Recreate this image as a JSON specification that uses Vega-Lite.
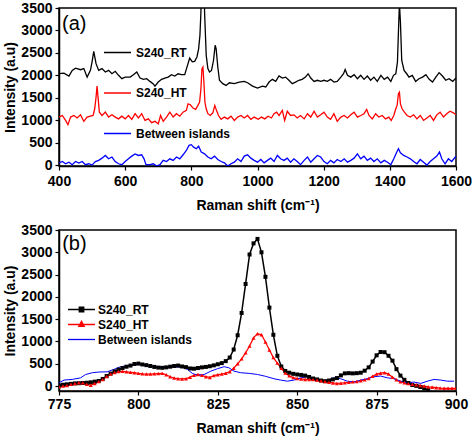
{
  "$schema": "https://vega.github.io/schema/vega-lite/v6.json",
  "padding": {"left": 3, "top": 0, "right": 2, "bottom": 0},
  "spacing": 9,
  "config": {
    "background": "white",
    "view": {"stroke": "black", "strokeWidth": 1.5},
    "axis": {
      "grid": false,
      "domainColor": "black", "domainWidth": 1.5,
      "tickColor": "black", "tickWidth": 1.2, "tickSize": 4,
      "labelFont": "Liberation Sans", "labelFontWeight": "bold", "labelFontSize": 14, "labelColor": "black",
      "titleFont": "Liberation Sans", "titleFontWeight": "bold", "titleFontSize": 14, "titleColor": "black",
      "labelFlush": false, "format": "d"
    },
    "legend": {
      "labelFont": "Liberation Sans", "labelFontWeight": "bold", "labelFontSize": 12, "labelColor": "black"
    }
  },
  "datasets": {
    "top": [
      {"x": 400, "y": 2036, "s": "S240_RT"}, {"x": 415, "y": 2050, "s": "S240_RT"}, {"x": 430, "y": 1985, "s": "S240_RT"}, {"x": 440, "y": 2110, "s": "S240_RT"},
      {"x": 450, "y": 2160, "s": "S240_RT"}, {"x": 465, "y": 2125, "s": "S240_RT"}, {"x": 475, "y": 2150, "s": "S240_RT"}, {"x": 485, "y": 1960, "s": "S240_RT"},
      {"x": 495, "y": 2110, "s": "S240_RT"}, {"x": 500, "y": 2300, "s": "S240_RT"}, {"x": 505, "y": 2535, "s": "S240_RT"}, {"x": 512, "y": 2260, "s": "S240_RT"},
      {"x": 520, "y": 2110, "s": "S240_RT"}, {"x": 530, "y": 2150, "s": "S240_RT"}, {"x": 540, "y": 2075, "s": "S240_RT"}, {"x": 550, "y": 2110, "s": "S240_RT"},
      {"x": 560, "y": 2035, "s": "S240_RT"}, {"x": 570, "y": 2090, "s": "S240_RT"}, {"x": 580, "y": 2000, "s": "S240_RT"}, {"x": 590, "y": 1925, "s": "S240_RT"},
      {"x": 600, "y": 1960, "s": "S240_RT"}, {"x": 615, "y": 1960, "s": "S240_RT"}, {"x": 625, "y": 2015, "s": "S240_RT"}, {"x": 635, "y": 2075, "s": "S240_RT"},
      {"x": 645, "y": 1940, "s": "S240_RT"}, {"x": 655, "y": 1910, "s": "S240_RT"}, {"x": 665, "y": 1925, "s": "S240_RT"}, {"x": 675, "y": 1865, "s": "S240_RT"},
      {"x": 685, "y": 1810, "s": "S240_RT"}, {"x": 690, "y": 1760, "s": "S240_RT"}, {"x": 700, "y": 1850, "s": "S240_RT"}, {"x": 710, "y": 1910, "s": "S240_RT"},
      {"x": 720, "y": 1940, "s": "S240_RT"}, {"x": 730, "y": 1960, "s": "S240_RT"}, {"x": 740, "y": 2015, "s": "S240_RT"}, {"x": 750, "y": 1985, "s": "S240_RT"},
      {"x": 760, "y": 2035, "s": "S240_RT"}, {"x": 770, "y": 2015, "s": "S240_RT"}, {"x": 780, "y": 2015, "s": "S240_RT"}, {"x": 790, "y": 2260, "s": "S240_RT"},
      {"x": 795, "y": 2385, "s": "S240_RT"}, {"x": 803, "y": 2300, "s": "S240_RT"}, {"x": 810, "y": 2310, "s": "S240_RT"}, {"x": 817, "y": 2410, "s": "S240_RT"},
      {"x": 822, "y": 2590, "s": "S240_RT"}, {"x": 826, "y": 2890, "s": "S240_RT"}, {"x": 829, "y": 3410, "s": "S240_RT"}, {"x": 832, "y": 4500, "s": "S240_RT"},
      {"x": 835, "y": 6000, "s": "S240_RT"}, {"x": 838, "y": 4500, "s": "S240_RT"}, {"x": 840, "y": 3410, "s": "S240_RT"}, {"x": 845, "y": 2445, "s": "S240_RT"},
      {"x": 850, "y": 2150, "s": "S240_RT"}, {"x": 855, "y": 2075, "s": "S240_RT"}, {"x": 861, "y": 2110, "s": "S240_RT"}, {"x": 867, "y": 2330, "s": "S240_RT"},
      {"x": 872, "y": 2670, "s": "S240_RT"}, {"x": 875, "y": 2590, "s": "S240_RT"}, {"x": 880, "y": 2185, "s": "S240_RT"}, {"x": 885, "y": 1890, "s": "S240_RT"},
      {"x": 895, "y": 1815, "s": "S240_RT"}, {"x": 905, "y": 1775, "s": "S240_RT"}, {"x": 915, "y": 1835, "s": "S240_RT"}, {"x": 930, "y": 1815, "s": "S240_RT"},
      {"x": 945, "y": 1850, "s": "S240_RT"}, {"x": 960, "y": 1865, "s": "S240_RT"}, {"x": 970, "y": 1835, "s": "S240_RT"}, {"x": 985, "y": 1760, "s": "S240_RT"},
      {"x": 1000, "y": 1715, "s": "S240_RT"}, {"x": 1015, "y": 1760, "s": "S240_RT"}, {"x": 1025, "y": 1740, "s": "S240_RT"}, {"x": 1035, "y": 1850, "s": "S240_RT"},
      {"x": 1045, "y": 1910, "s": "S240_RT"}, {"x": 1055, "y": 1865, "s": "S240_RT"}, {"x": 1065, "y": 1985, "s": "S240_RT"}, {"x": 1075, "y": 1940, "s": "S240_RT"},
      {"x": 1085, "y": 1960, "s": "S240_RT"}, {"x": 1095, "y": 1890, "s": "S240_RT"}, {"x": 1105, "y": 1815, "s": "S240_RT"}, {"x": 1115, "y": 1850, "s": "S240_RT"},
      {"x": 1125, "y": 1890, "s": "S240_RT"}, {"x": 1135, "y": 1910, "s": "S240_RT"}, {"x": 1145, "y": 1960, "s": "S240_RT"}, {"x": 1153, "y": 2035, "s": "S240_RT"},
      {"x": 1161, "y": 1940, "s": "S240_RT"}, {"x": 1171, "y": 1865, "s": "S240_RT"}, {"x": 1181, "y": 1890, "s": "S240_RT"}, {"x": 1191, "y": 1865, "s": "S240_RT"},
      {"x": 1201, "y": 1890, "s": "S240_RT"}, {"x": 1211, "y": 1865, "s": "S240_RT"}, {"x": 1221, "y": 1910, "s": "S240_RT"}, {"x": 1231, "y": 1850, "s": "S240_RT"},
      {"x": 1241, "y": 1865, "s": "S240_RT"}, {"x": 1252, "y": 1960, "s": "S240_RT"}, {"x": 1260, "y": 2035, "s": "S240_RT"}, {"x": 1265, "y": 2130, "s": "S240_RT"},
      {"x": 1272, "y": 2000, "s": "S240_RT"}, {"x": 1282, "y": 1960, "s": "S240_RT"}, {"x": 1292, "y": 2015, "s": "S240_RT"}, {"x": 1302, "y": 1925, "s": "S240_RT"},
      {"x": 1312, "y": 2000, "s": "S240_RT"}, {"x": 1322, "y": 1910, "s": "S240_RT"}, {"x": 1332, "y": 1985, "s": "S240_RT"}, {"x": 1342, "y": 1890, "s": "S240_RT"},
      {"x": 1352, "y": 1960, "s": "S240_RT"}, {"x": 1362, "y": 1865, "s": "S240_RT"}, {"x": 1373, "y": 2000, "s": "S240_RT"}, {"x": 1383, "y": 1910, "s": "S240_RT"},
      {"x": 1393, "y": 1960, "s": "S240_RT"}, {"x": 1403, "y": 1865, "s": "S240_RT"}, {"x": 1411, "y": 2000, "s": "S240_RT"}, {"x": 1418, "y": 2035, "s": "S240_RT"},
      {"x": 1423, "y": 2295, "s": "S240_RT"}, {"x": 1427, "y": 3190, "s": "S240_RT"}, {"x": 1429, "y": 3600, "s": "S240_RT"}, {"x": 1432, "y": 3190, "s": "S240_RT"},
      {"x": 1436, "y": 2330, "s": "S240_RT"}, {"x": 1443, "y": 2110, "s": "S240_RT"}, {"x": 1451, "y": 2035, "s": "S240_RT"}, {"x": 1458, "y": 1960, "s": "S240_RT"},
      {"x": 1468, "y": 2000, "s": "S240_RT"}, {"x": 1478, "y": 1865, "s": "S240_RT"}, {"x": 1488, "y": 1925, "s": "S240_RT"}, {"x": 1499, "y": 1960, "s": "S240_RT"},
      {"x": 1509, "y": 2015, "s": "S240_RT"}, {"x": 1519, "y": 1910, "s": "S240_RT"}, {"x": 1529, "y": 1850, "s": "S240_RT"}, {"x": 1539, "y": 1960, "s": "S240_RT"},
      {"x": 1549, "y": 2060, "s": "S240_RT"}, {"x": 1559, "y": 1985, "s": "S240_RT"}, {"x": 1569, "y": 1890, "s": "S240_RT"}, {"x": 1579, "y": 1925, "s": "S240_RT"},
      {"x": 1590, "y": 1865, "s": "S240_RT"}, {"x": 1600, "y": 1940, "s": "S240_RT"},

      {"x": 400, "y": 1070, "s": "S240_HT"}, {"x": 410, "y": 1105, "s": "S240_HT"}, {"x": 420, "y": 995, "s": "S240_HT"}, {"x": 427, "y": 900, "s": "S240_HT"},
      {"x": 435, "y": 1070, "s": "S240_HT"}, {"x": 445, "y": 1105, "s": "S240_HT"}, {"x": 455, "y": 1050, "s": "S240_HT"}, {"x": 465, "y": 1120, "s": "S240_HT"},
      {"x": 475, "y": 975, "s": "S240_HT"}, {"x": 485, "y": 1070, "s": "S240_HT"}, {"x": 495, "y": 1090, "s": "S240_HT"}, {"x": 503, "y": 1105, "s": "S240_HT"},
      {"x": 508, "y": 1255, "s": "S240_HT"}, {"x": 512, "y": 1515, "s": "S240_HT"}, {"x": 515, "y": 1760, "s": "S240_HT"}, {"x": 518, "y": 1515, "s": "S240_HT"},
      {"x": 522, "y": 1180, "s": "S240_HT"}, {"x": 530, "y": 1105, "s": "S240_HT"}, {"x": 540, "y": 1180, "s": "S240_HT"}, {"x": 550, "y": 1070, "s": "S240_HT"},
      {"x": 560, "y": 1120, "s": "S240_HT"}, {"x": 570, "y": 1070, "s": "S240_HT"}, {"x": 580, "y": 1030, "s": "S240_HT"}, {"x": 590, "y": 1090, "s": "S240_HT"},
      {"x": 600, "y": 1030, "s": "S240_HT"}, {"x": 610, "y": 1105, "s": "S240_HT"}, {"x": 620, "y": 1020, "s": "S240_HT"}, {"x": 630, "y": 1145, "s": "S240_HT"},
      {"x": 640, "y": 1050, "s": "S240_HT"}, {"x": 650, "y": 1145, "s": "S240_HT"}, {"x": 660, "y": 995, "s": "S240_HT"}, {"x": 670, "y": 1030, "s": "S240_HT"},
      {"x": 680, "y": 945, "s": "S240_HT"}, {"x": 690, "y": 975, "s": "S240_HT"}, {"x": 700, "y": 920, "s": "S240_HT"}, {"x": 707, "y": 1105, "s": "S240_HT"},
      {"x": 715, "y": 975, "s": "S240_HT"}, {"x": 725, "y": 1070, "s": "S240_HT"}, {"x": 735, "y": 1180, "s": "S240_HT"}, {"x": 745, "y": 1070, "s": "S240_HT"},
      {"x": 755, "y": 1145, "s": "S240_HT"}, {"x": 765, "y": 1090, "s": "S240_HT"}, {"x": 775, "y": 1180, "s": "S240_HT"}, {"x": 785, "y": 1220, "s": "S240_HT"},
      {"x": 790, "y": 1365, "s": "S240_HT"}, {"x": 797, "y": 1345, "s": "S240_HT"}, {"x": 805, "y": 1270, "s": "S240_HT"}, {"x": 813, "y": 1240, "s": "S240_HT"},
      {"x": 820, "y": 1330, "s": "S240_HT"}, {"x": 825, "y": 1405, "s": "S240_HT"}, {"x": 829, "y": 1700, "s": "S240_HT"}, {"x": 832, "y": 2145, "s": "S240_HT"},
      {"x": 835, "y": 2185, "s": "S240_HT"}, {"x": 838, "y": 1850, "s": "S240_HT"}, {"x": 841, "y": 1405, "s": "S240_HT"}, {"x": 845, "y": 1255, "s": "S240_HT"},
      {"x": 850, "y": 1145, "s": "S240_HT"}, {"x": 857, "y": 1105, "s": "S240_HT"}, {"x": 865, "y": 1165, "s": "S240_HT"}, {"x": 871, "y": 1330, "s": "S240_HT"},
      {"x": 876, "y": 1220, "s": "S240_HT"}, {"x": 882, "y": 1105, "s": "S240_HT"}, {"x": 890, "y": 1020, "s": "S240_HT"}, {"x": 900, "y": 1070, "s": "S240_HT"},
      {"x": 910, "y": 1030, "s": "S240_HT"}, {"x": 920, "y": 1090, "s": "S240_HT"}, {"x": 930, "y": 995, "s": "S240_HT"}, {"x": 940, "y": 1070, "s": "S240_HT"},
      {"x": 950, "y": 1105, "s": "S240_HT"}, {"x": 960, "y": 1050, "s": "S240_HT"}, {"x": 970, "y": 1105, "s": "S240_HT"}, {"x": 980, "y": 1020, "s": "S240_HT"},
      {"x": 990, "y": 1070, "s": "S240_HT"}, {"x": 1002, "y": 1020, "s": "S240_HT"}, {"x": 1012, "y": 1070, "s": "S240_HT"}, {"x": 1022, "y": 1030, "s": "S240_HT"},
      {"x": 1032, "y": 1090, "s": "S240_HT"}, {"x": 1042, "y": 1050, "s": "S240_HT"}, {"x": 1050, "y": 1145, "s": "S240_HT"}, {"x": 1058, "y": 1180, "s": "S240_HT"},
      {"x": 1065, "y": 1105, "s": "S240_HT"}, {"x": 1075, "y": 1220, "s": "S240_HT"}, {"x": 1082, "y": 995, "s": "S240_HT"}, {"x": 1090, "y": 1200, "s": "S240_HT"},
      {"x": 1100, "y": 1105, "s": "S240_HT"}, {"x": 1110, "y": 1120, "s": "S240_HT"}, {"x": 1120, "y": 1050, "s": "S240_HT"}, {"x": 1130, "y": 1105, "s": "S240_HT"},
      {"x": 1141, "y": 1030, "s": "S240_HT"}, {"x": 1151, "y": 1145, "s": "S240_HT"}, {"x": 1161, "y": 1070, "s": "S240_HT"}, {"x": 1171, "y": 1200, "s": "S240_HT"},
      {"x": 1181, "y": 1070, "s": "S240_HT"}, {"x": 1191, "y": 1120, "s": "S240_HT"}, {"x": 1201, "y": 1180, "s": "S240_HT"}, {"x": 1211, "y": 1070, "s": "S240_HT"},
      {"x": 1221, "y": 1020, "s": "S240_HT"}, {"x": 1231, "y": 1145, "s": "S240_HT"}, {"x": 1241, "y": 975, "s": "S240_HT"}, {"x": 1252, "y": 1070, "s": "S240_HT"},
      {"x": 1262, "y": 1105, "s": "S240_HT"}, {"x": 1272, "y": 1050, "s": "S240_HT"}, {"x": 1282, "y": 1120, "s": "S240_HT"}, {"x": 1292, "y": 1180, "s": "S240_HT"},
      {"x": 1302, "y": 1070, "s": "S240_HT"}, {"x": 1312, "y": 1105, "s": "S240_HT"}, {"x": 1322, "y": 1145, "s": "S240_HT"}, {"x": 1330, "y": 1240, "s": "S240_HT"},
      {"x": 1337, "y": 1105, "s": "S240_HT"}, {"x": 1347, "y": 1030, "s": "S240_HT"}, {"x": 1357, "y": 1145, "s": "S240_HT"}, {"x": 1367, "y": 1070, "s": "S240_HT"},
      {"x": 1377, "y": 1105, "s": "S240_HT"}, {"x": 1387, "y": 1030, "s": "S240_HT"}, {"x": 1397, "y": 1070, "s": "S240_HT"}, {"x": 1404, "y": 995, "s": "S240_HT"},
      {"x": 1412, "y": 1105, "s": "S240_HT"}, {"x": 1418, "y": 1255, "s": "S240_HT"}, {"x": 1422, "y": 1330, "s": "S240_HT"}, {"x": 1426, "y": 1590, "s": "S240_HT"},
      {"x": 1429, "y": 1625, "s": "S240_HT"}, {"x": 1432, "y": 1365, "s": "S240_HT"}, {"x": 1437, "y": 1255, "s": "S240_HT"}, {"x": 1444, "y": 1180, "s": "S240_HT"},
      {"x": 1452, "y": 1105, "s": "S240_HT"}, {"x": 1462, "y": 1070, "s": "S240_HT"}, {"x": 1472, "y": 1120, "s": "S240_HT"}, {"x": 1482, "y": 1030, "s": "S240_HT"},
      {"x": 1492, "y": 1105, "s": "S240_HT"}, {"x": 1502, "y": 995, "s": "S240_HT"}, {"x": 1512, "y": 1050, "s": "S240_HT"}, {"x": 1522, "y": 1105, "s": "S240_HT"},
      {"x": 1532, "y": 995, "s": "S240_HT"}, {"x": 1542, "y": 1120, "s": "S240_HT"}, {"x": 1552, "y": 1180, "s": "S240_HT"}, {"x": 1562, "y": 1070, "s": "S240_HT"},
      {"x": 1572, "y": 1145, "s": "S240_HT"}, {"x": 1582, "y": 1200, "s": "S240_HT"}, {"x": 1592, "y": 1165, "s": "S240_HT"}, {"x": 1600, "y": 1120, "s": "S240_HT"},

      {"x": 400, "y": 50, "s": "Between islands"}, {"x": 410, "y": 80, "s": "Between islands"}, {"x": 420, "y": 30, "s": "Between islands"}, {"x": 430, "y": 65, "s": "Between islands"},
      {"x": 440, "y": 10, "s": "Between islands"}, {"x": 450, "y": 80, "s": "Between islands"}, {"x": 460, "y": 45, "s": "Between islands"}, {"x": 470, "y": 80, "s": "Between islands"},
      {"x": 480, "y": 10, "s": "Between islands"}, {"x": 490, "y": 30, "s": "Between islands"}, {"x": 500, "y": 0, "s": "Between islands"}, {"x": 510, "y": 80, "s": "Between islands"},
      {"x": 520, "y": 105, "s": "Between islands"}, {"x": 530, "y": 155, "s": "Between islands"}, {"x": 540, "y": 215, "s": "Between islands"}, {"x": 550, "y": 140, "s": "Between islands"},
      {"x": 560, "y": 180, "s": "Between islands"}, {"x": 570, "y": 80, "s": "Between islands"}, {"x": 580, "y": 30, "s": "Between islands"}, {"x": 590, "y": 10, "s": "Between islands"},
      {"x": 600, "y": 80, "s": "Between islands"}, {"x": 610, "y": 140, "s": "Between islands"}, {"x": 620, "y": 200, "s": "Between islands"}, {"x": 630, "y": 250, "s": "Between islands"},
      {"x": 640, "y": 215, "s": "Between islands"}, {"x": 650, "y": 230, "s": "Between islands"}, {"x": 657, "y": 140, "s": "Between islands"}, {"x": 663, "y": 10, "s": "Between islands"},
      {"x": 675, "y": 10, "s": "Between islands"}, {"x": 685, "y": 30, "s": "Between islands"}, {"x": 695, "y": -20, "s": "Between islands"}, {"x": 705, "y": 10, "s": "Between islands"},
      {"x": 715, "y": 105, "s": "Between islands"}, {"x": 725, "y": 80, "s": "Between islands"}, {"x": 735, "y": 140, "s": "Between islands"}, {"x": 745, "y": 105, "s": "Between islands"},
      {"x": 755, "y": 180, "s": "Between islands"}, {"x": 765, "y": 140, "s": "Between islands"}, {"x": 775, "y": 230, "s": "Between islands"}, {"x": 785, "y": 325, "s": "Between islands"},
      {"x": 793, "y": 440, "s": "Between islands"}, {"x": 800, "y": 455, "s": "Between islands"}, {"x": 807, "y": 400, "s": "Between islands"}, {"x": 815, "y": 365, "s": "Between islands"},
      {"x": 822, "y": 420, "s": "Between islands"}, {"x": 830, "y": 290, "s": "Between islands"}, {"x": 840, "y": 250, "s": "Between islands"}, {"x": 850, "y": 180, "s": "Between islands"},
      {"x": 860, "y": 140, "s": "Between islands"}, {"x": 870, "y": 200, "s": "Between islands"}, {"x": 880, "y": 125, "s": "Between islands"}, {"x": 890, "y": 80, "s": "Between islands"},
      {"x": 900, "y": 50, "s": "Between islands"}, {"x": 910, "y": -20, "s": "Between islands"}, {"x": 920, "y": 30, "s": "Between islands"}, {"x": 930, "y": 65, "s": "Between islands"},
      {"x": 940, "y": 140, "s": "Between islands"}, {"x": 950, "y": 80, "s": "Between islands"}, {"x": 960, "y": 200, "s": "Between islands"}, {"x": 970, "y": 230, "s": "Between islands"},
      {"x": 980, "y": 155, "s": "Between islands"}, {"x": 990, "y": 105, "s": "Between islands"}, {"x": 1000, "y": 65, "s": "Between islands"}, {"x": 1010, "y": 125, "s": "Between islands"},
      {"x": 1020, "y": 50, "s": "Between islands"}, {"x": 1030, "y": 105, "s": "Between islands"}, {"x": 1040, "y": 155, "s": "Between islands"}, {"x": 1050, "y": 80, "s": "Between islands"},
      {"x": 1060, "y": 215, "s": "Between islands"}, {"x": 1070, "y": 140, "s": "Between islands"}, {"x": 1080, "y": 105, "s": "Between islands"}, {"x": 1090, "y": 155, "s": "Between islands"},
      {"x": 1100, "y": 65, "s": "Between islands"}, {"x": 1110, "y": 140, "s": "Between islands"}, {"x": 1120, "y": 80, "s": "Between islands"}, {"x": 1130, "y": 10, "s": "Between islands"},
      {"x": 1141, "y": 105, "s": "Between islands"}, {"x": 1151, "y": 180, "s": "Between islands"}, {"x": 1161, "y": 65, "s": "Between islands"}, {"x": 1171, "y": 140, "s": "Between islands"},
      {"x": 1181, "y": 215, "s": "Between islands"}, {"x": 1191, "y": 180, "s": "Between islands"}, {"x": 1201, "y": 80, "s": "Between islands"}, {"x": 1211, "y": 30, "s": "Between islands"},
      {"x": 1221, "y": 105, "s": "Between islands"}, {"x": 1231, "y": 50, "s": "Between islands"}, {"x": 1241, "y": 125, "s": "Between islands"}, {"x": 1252, "y": 80, "s": "Between islands"},
      {"x": 1262, "y": 140, "s": "Between islands"}, {"x": 1272, "y": 65, "s": "Between islands"}, {"x": 1282, "y": 105, "s": "Between islands"}, {"x": 1292, "y": 155, "s": "Between islands"},
      {"x": 1302, "y": 250, "s": "Between islands"}, {"x": 1312, "y": 140, "s": "Between islands"}, {"x": 1322, "y": 200, "s": "Between islands"}, {"x": 1332, "y": 105, "s": "Between islands"},
      {"x": 1342, "y": 155, "s": "Between islands"}, {"x": 1352, "y": 80, "s": "Between islands"}, {"x": 1362, "y": 140, "s": "Between islands"}, {"x": 1373, "y": 50, "s": "Between islands"},
      {"x": 1383, "y": 105, "s": "Between islands"}, {"x": 1393, "y": 65, "s": "Between islands"}, {"x": 1403, "y": 10, "s": "Between islands"}, {"x": 1412, "y": 140, "s": "Between islands"},
      {"x": 1420, "y": 275, "s": "Between islands"}, {"x": 1426, "y": 365, "s": "Between islands"}, {"x": 1432, "y": 275, "s": "Between islands"}, {"x": 1442, "y": 215, "s": "Between islands"},
      {"x": 1452, "y": 180, "s": "Between islands"}, {"x": 1462, "y": 140, "s": "Between islands"}, {"x": 1472, "y": 80, "s": "Between islands"}, {"x": 1482, "y": 30, "s": "Between islands"},
      {"x": 1492, "y": 125, "s": "Between islands"}, {"x": 1502, "y": 65, "s": "Between islands"}, {"x": 1512, "y": 0, "s": "Between islands"}, {"x": 1522, "y": 80, "s": "Between islands"},
      {"x": 1532, "y": 140, "s": "Between islands"}, {"x": 1542, "y": 200, "s": "Between islands"}, {"x": 1550, "y": 290, "s": "Between islands"}, {"x": 1557, "y": 140, "s": "Between islands"},
      {"x": 1567, "y": 30, "s": "Between islands"}, {"x": 1577, "y": 140, "s": "Between islands"}, {"x": 1587, "y": 80, "s": "Between islands"}, {"x": 1600, "y": 200, "s": "Between islands"}
    ],
    "bottom": [
      {"x": 775, "y": 15, "s": "S240_RT"}, {"x": 776.25, "y": 30, "s": "S240_RT"}, {"x": 777.5, "y": 40, "s": "S240_RT"}, {"x": 778.75, "y": 50, "s": "S240_RT"},
      {"x": 780, "y": 60, "s": "S240_RT"}, {"x": 781.25, "y": 65, "s": "S240_RT"}, {"x": 782.5, "y": 70, "s": "S240_RT"}, {"x": 783.75, "y": 75, "s": "S240_RT"},
      {"x": 785, "y": 85, "s": "S240_RT"}, {"x": 786.25, "y": 100, "s": "S240_RT"}, {"x": 787.5, "y": 115, "s": "S240_RT"}, {"x": 788.75, "y": 160, "s": "S240_RT"},
      {"x": 790, "y": 225, "s": "S240_RT"}, {"x": 791.25, "y": 280, "s": "S240_RT"}, {"x": 792.5, "y": 330, "s": "S240_RT"}, {"x": 793.75, "y": 370, "s": "S240_RT"},
      {"x": 795, "y": 405, "s": "S240_RT"}, {"x": 796.25, "y": 435, "s": "S240_RT"}, {"x": 797.5, "y": 460, "s": "S240_RT"}, {"x": 798.75, "y": 495, "s": "S240_RT"},
      {"x": 800, "y": 505, "s": "S240_RT"}, {"x": 801.25, "y": 485, "s": "S240_RT"}, {"x": 802.5, "y": 470, "s": "S240_RT"}, {"x": 803.75, "y": 450, "s": "S240_RT"},
      {"x": 805, "y": 430, "s": "S240_RT"}, {"x": 806.25, "y": 415, "s": "S240_RT"}, {"x": 807.5, "y": 410, "s": "S240_RT"}, {"x": 808.75, "y": 420, "s": "S240_RT"},
      {"x": 810, "y": 435, "s": "S240_RT"}, {"x": 811.25, "y": 450, "s": "S240_RT"}, {"x": 812.5, "y": 460, "s": "S240_RT"}, {"x": 813.75, "y": 440, "s": "S240_RT"},
      {"x": 815, "y": 425, "s": "S240_RT"}, {"x": 816.25, "y": 395, "s": "S240_RT"}, {"x": 817.5, "y": 390, "s": "S240_RT"}, {"x": 818.75, "y": 405, "s": "S240_RT"},
      {"x": 820, "y": 420, "s": "S240_RT"}, {"x": 821.25, "y": 430, "s": "S240_RT"}, {"x": 822.5, "y": 445, "s": "S240_RT"}, {"x": 823.75, "y": 465, "s": "S240_RT"},
      {"x": 825, "y": 490, "s": "S240_RT"}, {"x": 826.25, "y": 515, "s": "S240_RT"}, {"x": 827.5, "y": 560, "s": "S240_RT"}, {"x": 828.75, "y": 640, "s": "S240_RT"},
      {"x": 830, "y": 820, "s": "S240_RT"}, {"x": 831.25, "y": 1140, "s": "S240_RT"}, {"x": 832.5, "y": 1640, "s": "S240_RT"}, {"x": 833.75, "y": 2290, "s": "S240_RT"},
      {"x": 835, "y": 2950, "s": "S240_RT"}, {"x": 836.25, "y": 3200, "s": "S240_RT"}, {"x": 837.5, "y": 3300, "s": "S240_RT"}, {"x": 838.75, "y": 3000, "s": "S240_RT"},
      {"x": 840, "y": 2450, "s": "S240_RT"}, {"x": 841.25, "y": 1760, "s": "S240_RT"}, {"x": 842.5, "y": 1150, "s": "S240_RT"}, {"x": 843.75, "y": 680, "s": "S240_RT"},
      {"x": 845, "y": 440, "s": "S240_RT"}, {"x": 846.25, "y": 340, "s": "S240_RT"}, {"x": 847.5, "y": 300, "s": "S240_RT"}, {"x": 848.75, "y": 275, "s": "S240_RT"},
      {"x": 850, "y": 260, "s": "S240_RT"}, {"x": 851.25, "y": 250, "s": "S240_RT"}, {"x": 852.5, "y": 235, "s": "S240_RT"}, {"x": 853.75, "y": 205, "s": "S240_RT"},
      {"x": 855, "y": 170, "s": "S240_RT"}, {"x": 856.25, "y": 150, "s": "S240_RT"}, {"x": 857.5, "y": 125, "s": "S240_RT"}, {"x": 858.75, "y": 110, "s": "S240_RT"},
      {"x": 860, "y": 125, "s": "S240_RT"}, {"x": 861.25, "y": 150, "s": "S240_RT"}, {"x": 862.5, "y": 180, "s": "S240_RT"}, {"x": 863.75, "y": 240, "s": "S240_RT"},
      {"x": 865, "y": 285, "s": "S240_RT"}, {"x": 866.25, "y": 290, "s": "S240_RT"}, {"x": 867.5, "y": 285, "s": "S240_RT"}, {"x": 868.75, "y": 290, "s": "S240_RT"},
      {"x": 870, "y": 300, "s": "S240_RT"}, {"x": 871.25, "y": 345, "s": "S240_RT"}, {"x": 872.5, "y": 420, "s": "S240_RT"}, {"x": 873.75, "y": 550, "s": "S240_RT"},
      {"x": 875, "y": 690, "s": "S240_RT"}, {"x": 876.25, "y": 765, "s": "S240_RT"}, {"x": 877.5, "y": 760, "s": "S240_RT"}, {"x": 878.75, "y": 680, "s": "S240_RT"},
      {"x": 880, "y": 570, "s": "S240_RT"}, {"x": 881.25, "y": 380, "s": "S240_RT"}, {"x": 882.5, "y": 235, "s": "S240_RT"}, {"x": 883.75, "y": 140, "s": "S240_RT"},
      {"x": 885, "y": 70, "s": "S240_RT"}, {"x": 886.25, "y": 25, "s": "S240_RT"}, {"x": 887.5, "y": 5, "s": "S240_RT"}, {"x": 888.75, "y": -20, "s": "S240_RT"},
      {"x": 890, "y": -50, "s": "S240_RT"}, {"x": 891.25, "y": -90, "s": "S240_RT"},

      {"x": 775, "y": -15, "s": "S240_HT"}, {"x": 776.25, "y": 0, "s": "S240_HT"}, {"x": 777.5, "y": 15, "s": "S240_HT"}, {"x": 778.75, "y": 40, "s": "S240_HT"},
      {"x": 780, "y": 60, "s": "S240_HT"}, {"x": 781.25, "y": 75, "s": "S240_HT"}, {"x": 782.5, "y": 75, "s": "S240_HT"}, {"x": 783.75, "y": 40, "s": "S240_HT"},
      {"x": 785, "y": 20, "s": "S240_HT"}, {"x": 786.25, "y": 60, "s": "S240_HT"}, {"x": 787.5, "y": 100, "s": "S240_HT"}, {"x": 788.75, "y": 150, "s": "S240_HT"},
      {"x": 790, "y": 215, "s": "S240_HT"}, {"x": 791.25, "y": 270, "s": "S240_HT"}, {"x": 792.5, "y": 305, "s": "S240_HT"}, {"x": 793.75, "y": 325, "s": "S240_HT"},
      {"x": 795, "y": 330, "s": "S240_HT"}, {"x": 796.25, "y": 320, "s": "S240_HT"}, {"x": 797.5, "y": 310, "s": "S240_HT"}, {"x": 798.75, "y": 300, "s": "S240_HT"},
      {"x": 800, "y": 285, "s": "S240_HT"}, {"x": 801.25, "y": 275, "s": "S240_HT"}, {"x": 802.5, "y": 270, "s": "S240_HT"}, {"x": 803.75, "y": 270, "s": "S240_HT"},
      {"x": 805, "y": 275, "s": "S240_HT"}, {"x": 806.25, "y": 280, "s": "S240_HT"}, {"x": 807.5, "y": 285, "s": "S240_HT"}, {"x": 808.75, "y": 255, "s": "S240_HT"},
      {"x": 810, "y": 210, "s": "S240_HT"}, {"x": 811.25, "y": 180, "s": "S240_HT"}, {"x": 812.5, "y": 165, "s": "S240_HT"}, {"x": 813.75, "y": 160, "s": "S240_HT"},
      {"x": 815, "y": 165, "s": "S240_HT"}, {"x": 816.25, "y": 200, "s": "S240_HT"}, {"x": 817.5, "y": 240, "s": "S240_HT"}, {"x": 818.75, "y": 260, "s": "S240_HT"},
      {"x": 820, "y": 240, "s": "S240_HT"}, {"x": 821.25, "y": 210, "s": "S240_HT"}, {"x": 822.5, "y": 195, "s": "S240_HT"}, {"x": 823.75, "y": 235, "s": "S240_HT"},
      {"x": 825, "y": 255, "s": "S240_HT"}, {"x": 826.25, "y": 270, "s": "S240_HT"}, {"x": 827.5, "y": 290, "s": "S240_HT"}, {"x": 828.75, "y": 320, "s": "S240_HT"},
      {"x": 830, "y": 400, "s": "S240_HT"}, {"x": 831.25, "y": 500, "s": "S240_HT"}, {"x": 832.5, "y": 610, "s": "S240_HT"}, {"x": 833.75, "y": 745, "s": "S240_HT"},
      {"x": 835, "y": 900, "s": "S240_HT"}, {"x": 836.25, "y": 1080, "s": "S240_HT"}, {"x": 837.5, "y": 1175, "s": "S240_HT"}, {"x": 838.75, "y": 1150, "s": "S240_HT"},
      {"x": 840, "y": 990, "s": "S240_HT"}, {"x": 841.25, "y": 810, "s": "S240_HT"}, {"x": 842.5, "y": 640, "s": "S240_HT"}, {"x": 843.75, "y": 515, "s": "S240_HT"},
      {"x": 845, "y": 400, "s": "S240_HT"}, {"x": 846.25, "y": 295, "s": "S240_HT"}, {"x": 847.5, "y": 230, "s": "S240_HT"}, {"x": 848.75, "y": 190, "s": "S240_HT"},
      {"x": 850, "y": 170, "s": "S240_HT"}, {"x": 851.25, "y": 160, "s": "S240_HT"}, {"x": 852.5, "y": 150, "s": "S240_HT"}, {"x": 853.75, "y": 150, "s": "S240_HT"},
      {"x": 855, "y": 145, "s": "S240_HT"}, {"x": 856.25, "y": 135, "s": "S240_HT"}, {"x": 857.5, "y": 120, "s": "S240_HT"}, {"x": 858.75, "y": 105, "s": "S240_HT"},
      {"x": 860, "y": 85, "s": "S240_HT"}, {"x": 861.25, "y": 70, "s": "S240_HT"}, {"x": 862.5, "y": 60, "s": "S240_HT"}, {"x": 863.75, "y": 65, "s": "S240_HT"},
      {"x": 865, "y": 75, "s": "S240_HT"}, {"x": 866.25, "y": 85, "s": "S240_HT"}, {"x": 867.5, "y": 95, "s": "S240_HT"}, {"x": 868.75, "y": 105, "s": "S240_HT"},
      {"x": 870, "y": 120, "s": "S240_HT"}, {"x": 871.25, "y": 140, "s": "S240_HT"}, {"x": 872.5, "y": 170, "s": "S240_HT"}, {"x": 873.75, "y": 220, "s": "S240_HT"},
      {"x": 875, "y": 270, "s": "S240_HT"}, {"x": 876.25, "y": 290, "s": "S240_HT"}, {"x": 877.5, "y": 300, "s": "S240_HT"}, {"x": 878.75, "y": 270, "s": "S240_HT"},
      {"x": 880, "y": 200, "s": "S240_HT"}, {"x": 881.25, "y": 140, "s": "S240_HT"}, {"x": 882.5, "y": 95, "s": "S240_HT"}, {"x": 883.75, "y": 75, "s": "S240_HT"},
      {"x": 885, "y": 55, "s": "S240_HT"}, {"x": 886.25, "y": 40, "s": "S240_HT"}, {"x": 887.5, "y": 30, "s": "S240_HT"}, {"x": 888.75, "y": 15, "s": "S240_HT"},
      {"x": 890, "y": 0, "s": "S240_HT"}, {"x": 891.25, "y": -15, "s": "S240_HT"}, {"x": 892.5, "y": -25, "s": "S240_HT"}, {"x": 893.75, "y": -35, "s": "S240_HT"},
      {"x": 895, "y": -45, "s": "S240_HT"}, {"x": 896.25, "y": -50, "s": "S240_HT"}, {"x": 897.5, "y": -50, "s": "S240_HT"}, {"x": 898.75, "y": -50, "s": "S240_HT"},
      {"x": 900, "y": -50, "s": "S240_HT"},

      {"x": 775, "y": 75, "s": "Between islands"}, {"x": 776.6, "y": 135, "s": "Between islands"}, {"x": 779.2, "y": 150, "s": "Between islands"}, {"x": 781.8, "y": 185, "s": "Between islands"},
      {"x": 783.4, "y": 260, "s": "Between islands"}, {"x": 785.5, "y": 300, "s": "Between islands"}, {"x": 787.6, "y": 315, "s": "Between islands"}, {"x": 790.2, "y": 320, "s": "Between islands"},
      {"x": 792.3, "y": 375, "s": "Between islands"}, {"x": 794.4, "y": 435, "s": "Between islands"}, {"x": 797.1, "y": 465, "s": "Between islands"}, {"x": 799.7, "y": 485, "s": "Between islands"},
      {"x": 801.8, "y": 470, "s": "Between islands"}, {"x": 804.9, "y": 435, "s": "Between islands"}, {"x": 808.1, "y": 420, "s": "Between islands"}, {"x": 811.2, "y": 435, "s": "Between islands"},
      {"x": 813.9, "y": 420, "s": "Between islands"}, {"x": 815.4, "y": 375, "s": "Between islands"}, {"x": 817, "y": 285, "s": "Between islands"}, {"x": 818.6, "y": 240, "s": "Between islands"},
      {"x": 820.7, "y": 260, "s": "Between islands"}, {"x": 822.8, "y": 335, "s": "Between islands"}, {"x": 824.9, "y": 390, "s": "Between islands"}, {"x": 827, "y": 435, "s": "Between islands"},
      {"x": 828.5, "y": 410, "s": "Between islands"}, {"x": 830.1, "y": 335, "s": "Between islands"}, {"x": 832.2, "y": 300, "s": "Between islands"}, {"x": 834.9, "y": 285, "s": "Between islands"},
      {"x": 837.5, "y": 260, "s": "Between islands"}, {"x": 840, "y": 220, "s": "Between islands"}, {"x": 842.7, "y": 165, "s": "Between islands"}, {"x": 844.8, "y": 135, "s": "Between islands"},
      {"x": 846.9, "y": 110, "s": "Between islands"}, {"x": 849, "y": 135, "s": "Between islands"}, {"x": 851.1, "y": 185, "s": "Between islands"}, {"x": 853.2, "y": 210, "s": "Between islands"},
      {"x": 855.3, "y": 150, "s": "Between islands"}, {"x": 857.4, "y": 110, "s": "Between islands"}, {"x": 859.5, "y": 135, "s": "Between islands"}, {"x": 861.6, "y": 185, "s": "Between islands"},
      {"x": 863.7, "y": 165, "s": "Between islands"}, {"x": 865.8, "y": 110, "s": "Between islands"}, {"x": 867.9, "y": 90, "s": "Between islands"}, {"x": 870, "y": 135, "s": "Between islands"},
      {"x": 872.1, "y": 165, "s": "Between islands"}, {"x": 874.2, "y": 210, "s": "Between islands"}, {"x": 876.3, "y": 225, "s": "Between islands"}, {"x": 878.4, "y": 185, "s": "Between islands"},
      {"x": 880.5, "y": 165, "s": "Between islands"}, {"x": 882.6, "y": 110, "s": "Between islands"}, {"x": 884.7, "y": 75, "s": "Between islands"}, {"x": 886.8, "y": 90, "s": "Between islands"},
      {"x": 888.9, "y": 60, "s": "Between islands"}, {"x": 891, "y": 110, "s": "Between islands"}, {"x": 893.1, "y": 150, "s": "Between islands"}, {"x": 895.2, "y": 135, "s": "Between islands"},
      {"x": 897.3, "y": 110, "s": "Between islands"}, {"x": 899.4, "y": 110, "s": "Between islands"}
    ]
  },
  "vconcat": [
    {
      "width": 397,
      "height": 158,
      "layer": [
        {
          "data": {"name": "top"},
          "mark": {"type": "line", "strokeWidth": 1.3, "clip": true},
          "encoding": {
            "x": {"field": "x", "type": "quantitative", "scale": {"domain": [400, 1600], "nice": false},
                  "axis": {"values": [400, 600, 800, 1000, 1200, 1400, 1600], "tickCount": 7, "title": "Raman shift (cm⁻¹)", "labelPadding": 4, "titlePadding": 10}},
            "y": {"field": "y", "type": "quantitative", "scale": {"domain": [-20, 3500], "nice": false},
                  "axis": {"values": [0, 500, 1000, 1500, 2000, 2500, 3000, 3500], "tickCount": 8, "title": "Intensity (a.u)", "labelPadding": 3, "titlePadding": 3}},
            "color": {"field": "s", "type": "nominal",
                      "scale": {"domain": ["S240_RT", "S240_HT", "Between islands"], "range": ["#000000", "#ff0000", "#0000ff"]},
                      "legend": {"title": null, "orient": "none", "legendX": 44, "legendY": 30, "symbolType": "stroke", "symbolSize": 729,
                                 "symbolStrokeWidth": 1.5, "labelOffset": 4, "rowPadding": 19.5}}
          }
        },
        {
          "data": {"values": [{"panel": "(a)"}]},
          "mark": {"type": "text", "font": "Liberation Sans", "fontSize": 20, "align": "left", "baseline": "middle", "color": "black"},
          "encoding": {"x": {"datum": 409}, "y": {"datum": 3145}, "text": {"field": "panel"}}
        }
      ]
    },
    {
      "width": 397,
      "height": 161,
      "layer": [
        {
          "data": {"name": "bottom"},
          "mark": {"type": "line", "clip": true},
          "encoding": {
            "x": {"field": "x", "type": "quantitative", "scale": {"domain": [775, 900], "nice": false},
                  "axis": {"values": [775, 800, 825, 850, 875, 900], "tickCount": 6, "title": "Raman shift (cm⁻¹)", "labelPadding": 2, "titlePadding": 10}},
            "y": {"field": "y", "type": "quantitative", "scale": {"domain": [-110, 3500], "nice": false},
                  "axis": {"values": [0, 500, 1000, 1500, 2000, 2500, 3000, 3500], "tickCount": 8, "title": "Intensity (a.u)", "labelPadding": 3, "titlePadding": 3}},
            "strokeWidth": {"field": "s", "type": "nominal", "scale": {"domain": ["S240_RT", "S240_HT", "Between islands"], "range": [1.5, 1, 1.1]}, "legend": null},
            "color": {"field": "s", "type": "nominal",
                      "scale": {"domain": ["S240_RT", "S240_HT", "Between islands"], "range": ["#000000", "#ff0000", "#0000ff"]},
                      "legend": {"title": null, "orient": "none", "legendX": 14, "legendY": 71, "symbolSize": 225,
                                 "symbolStrokeWidth": 1.3, "labelOffset": 8, "rowPadding": 0,
                                 "encode": {"symbols": {"update": {
                                   "shape": {"signal": "datum.value === 'S240_RT' ? 'M-1.8,0H1.8M-0.3,-0.3H0.3V0.3H-0.3Z' : datum.value === 'S240_HT' ? 'M-1.8,0H1.8M0,-0.42L0.36,0.26H-0.36Z' : 'M-1.8,0H1.8'"},
                                   "fill": {"signal": "datum.value === 'S240_RT' ? '#000000' : datum.value === 'S240_HT' ? '#ff0000' : 'transparent'"},
                                   "opacity": {"value": 1}
                                 }}}}}
          }
        },
        {
          "data": {"name": "bottom"},
          "transform": [{"filter": "datum.s !== 'Between islands'"}],
          "mark": {"type": "point", "filled": true, "opacity": 1, "clip": true},
          "encoding": {
            "x": {"field": "x", "type": "quantitative"},
            "y": {"field": "y", "type": "quantitative"},
            "color": {"field": "s", "type": "nominal"},
            "shape": {"field": "s", "type": "nominal", "scale": {"domain": ["S240_RT", "S240_HT"], "range": ["square", "triangle-up"]}, "legend": null},
            "size": {"value": 16}
          }
        },
        {
          "data": {"values": [{"panel": "(b)"}]},
          "mark": {"type": "text", "font": "Liberation Sans", "fontSize": 20, "align": "left", "baseline": "middle", "color": "black"},
          "encoding": {"x": {"datum": 776}, "y": {"datum": 3180}, "text": {"field": "panel"}}
        }
      ]
    }
  ],
  "resolve": {"scale": {"color": "independent", "x": "independent", "y": "independent"}, "legend": {"color": "independent"}}
}
